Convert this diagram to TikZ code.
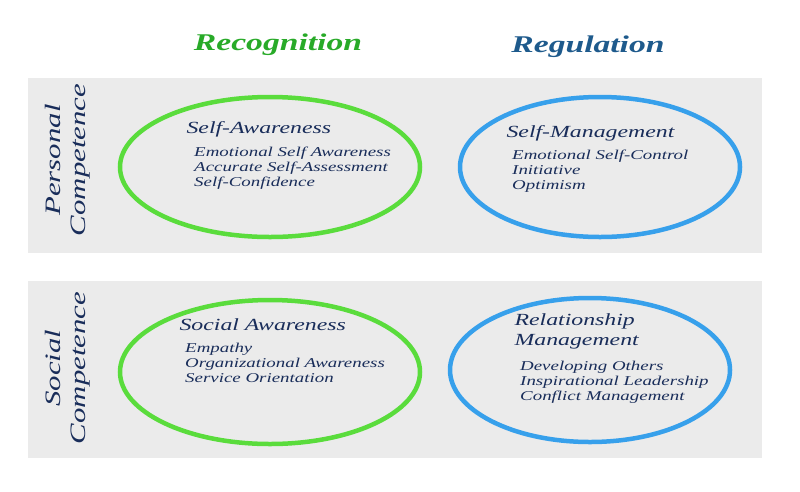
\documentclass[tikz,border=0pt]{standalone}
\usepackage{fontspec}
\setmainfont{TeX Gyre Heros}
\newfontfamily\hand[FakeStretch=1.4]{Liberation Serif}
\definecolor{tgreen}{RGB}{40,170,40}
\definecolor{tblue}{RGB}{30,90,140}
\definecolor{egreen}{RGB}{90,220,60}
\definecolor{eblue}{RGB}{55,160,235}
\definecolor{ink}{RGB}{25,45,90}
\definecolor{band}{RGB}{235,235,235}
\begin{document}
\begin{tikzpicture}[x=1pt,y=-1pt,
  ttl/.style={font=\hand\itshape\bfseries\fontsize{24}{26}\selectfont},
  side/.style={font=\hand\itshape\fontsize{22}{25}\selectfont,text=ink,rotate=90,align=center},
  hd/.style={font=\hand\itshape\fontsize{17}{20}\selectfont,text=ink,anchor=north west,align=left},
  it/.style={font=\hand\itshape\fontsize{13.5}{15}\selectfont,text=ink,anchor=north west,align=left,inner sep=1pt},
  ring/.style={line width=4.5pt}]
\useasboundingbox (0,0) rectangle (800,491);
\fill[band] (28,78) rectangle (762,253);
\fill[band] (28,281) rectangle (762,458);
\node[ttl,text=tgreen] (rec) at (278,45) {Recognition};
\node[ttl,text=tblue] (reg) at (588,47) {Regulation};
\node[side] (pc) at (68,160) {Personal\\Competence};
\node[side] (sc) at (68,368) {Social\\Competence};
\draw[ring,egreen] (270,167) ellipse (150 and 70);
\draw[ring,eblue] (600,167) ellipse (140 and 70);
\draw[ring,egreen] (270,372) ellipse (150 and 72);
\draw[ring,eblue] (590,370) ellipse (140 and 72);
\node[hd] (sa) at (183,118) {Self-Awareness};
\node[it] (sai) at (193,146) {Emotional Self Awareness\\Accurate Self-Assessment\\Self-Confidence};
\node[hd] (sm) at (503,122) {Self-Management};
\node[it] (smi) at (511,149) {Emotional Self-Control\\Initiative\\Optimism};
\node[hd] (soa) at (176,315) {Social Awareness};
\node[it] (soai) at (184,342) {Empathy\\Organizational Awareness\\Service Orientation};
\node[hd] (rm) at (511,310) {Relationship\\Management};
\node[it] (rmi) at (519,360) {Developing Others\\Inspirational Leadership\\Conflict Management};
\end{tikzpicture}
\end{document}
